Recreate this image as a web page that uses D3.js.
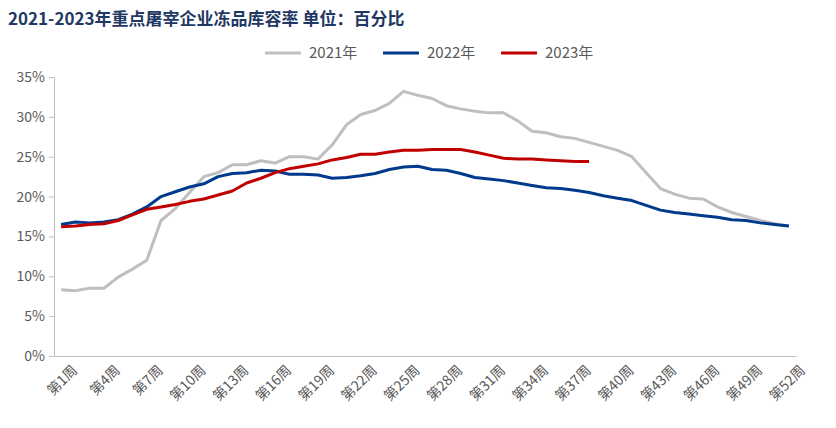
<!DOCTYPE html>
<html><head><meta charset="utf-8">
<script src="https://cdn.jsdelivr.net/npm/d3@7"></script>
<style>body{margin:0;background:#fff}text{font-family:"Noto Sans CJK SC","Liberation Sans",sans-serif}</style>
</head><body><svg id="c" width="836" height="428"></svg>
<script>
const weeks = d3.range(1, 53).map(d => `第${d}周`);
const s2021 = [8.3,8.2,8.5,8.5,9.9,10.9,12.0,17.0,18.5,20.5,22.5,23.0,24.0,24.0,24.5,24.2,25.0,25.0,24.7,26.5,29.0,30.3,30.8,31.7,33.2,32.7,32.3,31.4,31.0,30.7,30.5,30.5,29.5,28.2,28.0,27.5,27.3,26.8,26.3,25.8,25.0,23.0,21.0,20.3,19.8,19.7,18.7,18.0,17.5,17.0,16.6,16.3];
const s2022 = [16.5,16.8,16.7,16.8,17.1,17.8,18.7,20.0,20.6,21.2,21.6,22.5,22.9,23.0,23.3,23.2,22.8,22.8,22.7,22.3,22.4,22.6,22.9,23.4,23.7,23.8,23.4,23.3,22.9,22.4,22.2,22.0,21.7,21.4,21.1,21.0,20.8,20.5,20.1,19.8,19.5,18.9,18.3,18.0,17.8,17.6,17.4,17.1,17.0,16.7,16.5,16.3];
const s2023 = [16.2,16.3,16.5,16.6,17.0,17.7,18.4,18.7,19.0,19.4,19.7,20.2,20.7,21.7,22.3,23.0,23.5,23.8,24.1,24.6,24.9,25.3,25.3,25.6,25.8,25.8,25.9,25.9,25.9,25.6,25.2,24.8,24.7,24.7,24.6,24.5,24.4,24.4];
const yTicks = [0,5,10,15,20,25,30,35];
const series = [
  {name:"2021年", values:s2021, color:"#BFBFBF"},
  {name:"2022年", values:s2022, color:"#003A8C"},
  {name:"2023年", values:s2023, color:"#C00000"}
];

const svg = d3.select("#c");
const x = d3.scaleBand().domain(weeks).range([54, 796]);
const y = d3.scaleLinear().domain([0, 35]).range([356, 77]);

svg.append("text").attr("x", 8).attr("y", 25).attr("font-size", 17).attr("font-weight", "bold")
  .attr("fill", "#1F3864").text("2021-2023年重点屠宰企业冻品库容率  单位：百分比");

// y axis
const ya = svg.append("g").attr("transform", "translate(54,0)")
  .call(d3.axisLeft(y).tickValues(yTicks).tickFormat(d => d + "%").tickSize(5).tickPadding(4));
ya.selectAll("line,path").attr("stroke", "#BFBFBF");
ya.selectAll("text").attr("font-size", 14).attr("fill", "#595959");

// x axis
const xa = svg.append("g").attr("transform", "translate(0,356)")
  .call(d3.axisBottom(x).tickValues(weeks.filter((d, i) => i % 3 === 0)).tickSize(0));
xa.select("path").attr("stroke", "#BFBFBF");
xa.selectAll("text").attr("font-size", 14).attr("fill", "#595959")
  .attr("text-anchor", "end").attr("transform", "translate(8,6) rotate(-45)").attr("dy", "0.7em");

const line = d3.line().x((d, i) => x(weeks[i]) + x.bandwidth() / 2).y(d => y(d));
series.forEach(s => {
  svg.append("path").datum(s.values).attr("d", line).attr("fill", "none")
    .attr("stroke", s.color).attr("stroke-width", 3).attr("stroke-linejoin", "round");
});

// legend
const lg = svg.append("g").selectAll("g").data(series).join("g")
  .attr("transform", (d, i) => `translate(${265 + i * 118},53)`);
lg.append("line").attr("x1", 0).attr("x2", 36).attr("stroke", d => d.color).attr("stroke-width", 3);
lg.append("text").attr("x", 44).attr("y", 5).attr("font-size", 15).attr("fill", "#595959").text(d => d.name);
</script></body></html>
